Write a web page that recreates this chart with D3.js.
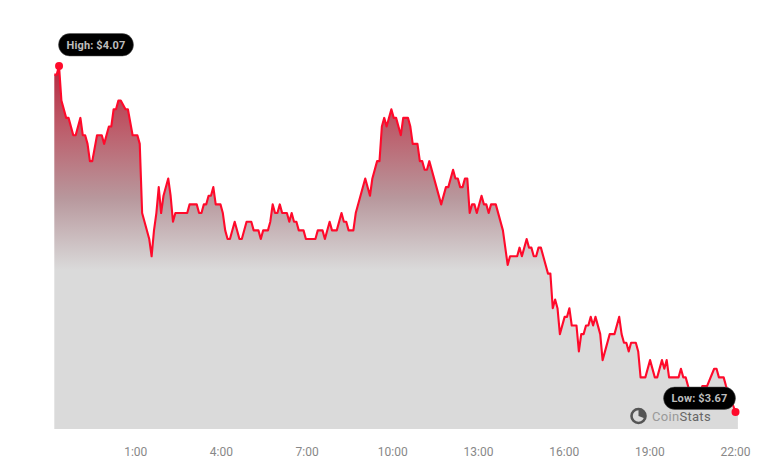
<!DOCTYPE html>
<html><head><meta charset="utf-8">
<script src="https://cdn.jsdelivr.net/npm/d3@7"></script>
<style>html,body{margin:0;padding:0;background:#fff}svg{display:block}</style>
</head><body><svg id="c" width="760" height="472"></svg>
<script>
// Five-minute sample number and price in cents at each visible vertex
const sampleIndex = [0,1,2,3,5,6,8,9,11,12,13,14,15,16,18,20,21,23,24,25,26,27,28,30,31,33,35,36,37,40,41,42,43,44,45,46,48,49,50,51,56,57,60,61,62,63,64,65,66,67,68,70,71,72,73,74,76,78,79,81,83,84,86,87,88,90,91,92,93,94,95,96,98,99,100,101,102,103,105,106,110,111,113,114,116,117,119,121,122,123,124,126,127,131,133,134,136,137,138,139,140,142,143,144,146,147,149,150,151,153,154,155,156,157,158,163,165,166,168,169,170,171,172,173,174,175,176,177,178,180,181,182,183,184,186,189,191,192,195,196,197,199,200,201,202,203,204,205,208,209,210,211,212,213,215,216,217,218,220,221,222,223,224,225,226,227,228,230,231,234,236,238,239,240,241,242,243,245,246,247,249,251,253,254,256,257,258,259,263,264,265,266,267,268,272,273,275,278,279,280,282,283,287,288];
const priceCents = [406,406,407,403,401,401,399,399,401,399,399,398,396,396,399,399,398,400,400,402,402,403,403,402,402,399,399,398,390,387,385,388,390,393,390,392,394,392,389,390,390,391,391,390,390,391,391,392,392,393,391,391,390,388,387,387,389,387,387,389,389,388,388,387,388,388,389,391,390,390,391,390,390,389,390,389,389,388,388,387,387,388,388,387,389,388,388,390,389,389,388,388,390,394,392,394,396,396,400,401,400,402,401,401,399,401,401,400,398,398,396,396,395,395,396,391,393,393,395,394,394,393,393,394,394,390,391,391,390,392,391,391,390,391,391,388,384,385,385,386,385,387,386,386,385,385,386,386,383,383,379,380,379,376,378,378,379,377,377,374,376,376,377,377,378,377,378,376,373,376,376,378,376,375,375,374,375,375,374,371,371,373,371,371,373,372,373,371,371,372,371,371,370,369,369,370,370,372,372,371,371,370,367,367];
const tickLabels = ["1:00","4:00","7:00","10:00","13:00","16:00","19:00","22:00"];
const tickSamples = [34.1,70.2,106.3,142.4,178.5,214.6,250.7,286.8];
const highLabel = "High: $4.07", lowLabel = "Low: $3.67";
const highSample = 2, highCents = 407, lowSample = 287, lowCents = 367;

const svg = d3.select("#c");
const x = d3.scaleLinear().domain([0,288]).range([54.3,737.9]);
const y = d3.scaleLinear().domain([367,407]).range([412,66]);
const bottom = 429;
const pts = sampleIndex.map((s,i)=>[s,priceCents[i]]);

const grad = svg.append("defs").append("linearGradient").attr("id","g")
  .attr("gradientUnits","userSpaceOnUse").attr("x1",0).attr("x2",0).attr("y1",66).attr("y2",270);
[[0,"#b5283f"],[0.29,"#bd5a68"],[0.65,"#b8989d"],[1,"#dadada"]].forEach(s=>
  grad.append("stop").attr("offset",s[0]).attr("stop-color",s[1]));

svg.append("path").datum(pts).attr("fill","url(#g)")
  .attr("d",d3.area().x(d=>x(d[0])).y0(bottom).y1(d=>y(d[1])));
svg.append("path").datum(pts).attr("fill","none").attr("stroke","#ff0a2b").attr("stroke-width",2.1)
  .attr("stroke-linejoin","round")
  .attr("d",d3.line().x(d=>x(d[0])).y(d=>y(d[1])));

const axis = d3.axisBottom(x).tickValues(tickSamples).tickFormat((d,i)=>tickLabels[i]).tickSize(0).tickPadding(0);
const ax = svg.append("g").attr("transform",`translate(0,${bottom})`).call(axis);
ax.select(".domain").remove();
ax.selectAll("text").attr("y",18).attr("dy","0.71em").attr("font-family","Roboto").attr("font-size",12).attr("fill","#888");

// watermark
const wm = svg.append("g");
wm.append("circle").attr("cx",638.5).attr("cy",416).attr("r",7).attr("fill","none").attr("stroke","#555").attr("stroke-width",2.6);
wm.append("path").attr("d",d3.arc().innerRadius(0).outerRadius(7).startAngle(0).endAngle(Math.PI*0.62)()).attr("transform","translate(638.5,416)").attr("fill","#555");
const wt = wm.append("text").attr("x",652).attr("y",421).attr("font-family","Roboto").attr("font-size",13).attr("letter-spacing",0.3);
wt.append("tspan").attr("fill","#999").text("Coin");
wt.append("tspan").attr("fill","#666").text("Stats");

function dot(s,c){svg.append("circle").attr("cx",x(s)).attr("cy",y(c)).attr("r",4).attr("fill","#ff0a2b");}
dot(highSample,highCents); dot(lowSample,lowCents);
function pill(x0,x1,y0,y1,t){
  svg.append("rect").attr("x",x0).attr("y",y0).attr("width",x1-x0).attr("height",y1-y0)
    .attr("rx",(y1-y0)/2).attr("fill","#000").attr("stroke","#555").attr("stroke-width",0.5);
  svg.append("text").attr("x",(x0+x1)/2).attr("y",(y0+y1)/2+3.8).attr("text-anchor","middle")
    .attr("font-family","Roboto").attr("font-weight",700).attr("font-size",11).attr("letter-spacing",0.15).attr("fill","#bdbdbd").text(t);
}
pill(58.5,133.5,33.5,56,highLabel);
pill(663.5,735.5,387,409.5,lowLabel);
</script></body></html>
